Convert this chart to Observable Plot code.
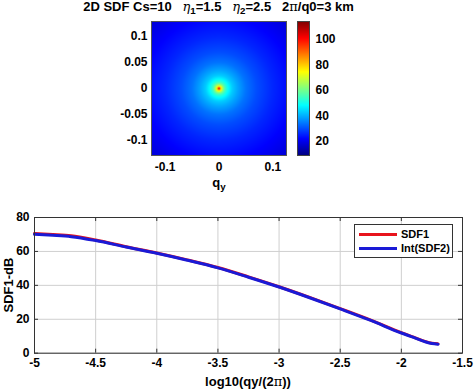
<!DOCTYPE html>
<html>
<head>
<meta charset="utf-8">
<script src="https://cdn.jsdelivr.net/npm/d3@7"></script>
<script src="https://cdn.jsdelivr.net/npm/@observablehq/plot@0.6"></script>
<style>
  html, body { margin: 0; padding: 0; background: #fff; }
  #root { position: relative; width: 474px; height: 390px; overflow: hidden; font-family: "Liberation Sans", Arial, sans-serif; font-weight: bold; color: #000; }
  #root svg { position: absolute; overflow: visible; }
  .lbl { position: absolute; white-space: pre; font-weight: bold; }
  sub { font-size: 0.75em; vertical-align: -0.35em; line-height: 0; }
</style>
</head>
<body>
<div id="root"></div>
<script>
// ---------- data ----------
// 1-D spectrum (dB) vs log10(qy/(2π))
const logQ     = [-5, -4.85, -4.7, -4.5, -4.25, -4, -3.75, -3.5, -3.25, -3, -2.75, -2.5, -2.25, -2, -1.9, -1.8, -1.75, -1.7];
const sdf1     = [70.6, 70.0, 69.2, 66.7, 62.8, 59.1, 55.0, 50.5, 45.0, 39.2, 32.9, 26.3, 19.5, 12.1, 9.5, 6.8, 5.9, 5.5];
const intSdf2  = [70.1, 69.5, 68.7, 66.4, 62.6, 58.9, 54.8, 50.3, 44.8, 39.0, 32.7, 26.1, 19.3, 11.9, 9.3, 6.6, 5.7, 5.3];
const seriesNames = ["SDF1", "Int(SDF2)"];
const seriesColors = ["#e8141c", "#1a1ad6"];

// 2-D SDF radial profile (radius in q units, value in colour units)
const radialQ = [0, 0.0015, 0.003, 0.005, 0.008, 0.012, 0.018, 0.025, 0.035, 0.05, 0.07, 0.1, 0.13, 0.18];
const radialV = [114, 95, 82, 72, 62, 54, 48, 43, 39, 34, 30, 26, 23, 18];

// ticks
const mapTicks = [-0.1, -0.05, 0, 0.05, 0.1];
const mapXTicks = [-0.1, 0, 0.1];
const cbarTicks = [20, 40, 60, 80, 100];
const lineXTicks = [-5, -4.5, -4, -3.5, -3, -2.5, -2, -1.5];
const lineYTicks = [0, 20, 40, 60, 80];

// jet colormap
const cbarMin = 9, cbarMax = 114;
const jetStops = [0, 0.125, 0.375, 0.625, 0.875, 1];
const jetColors = ["#000080", "#0000ff", "#00ffff", "#ffff00", "#ff0000", "#800000"];

// ---------- build ----------
const root = document.getElementById("root");
const colorScale = {
  type: "linear",
  domain: jetStops.map(t => cbarMin + t * (cbarMax - cbarMin)),
  range: jetColors,
  interpolate: "rgb"
};
const profile = d3.scaleLinear().domain(radialQ).range(radialV).clamp(true);
const fmt = d => String(d);
const FONT = "Liberation Sans, Arial, sans-serif";

// heatmap
const qx = 0.1254, qy = 0.129;
const heat = Plot.plot({
  width: 300, height: 195,
  marginLeft: 151, marginRight: 14, marginTop: 21, marginBottom: 40,
  style: {fontFamily: FONT, fontSize: "12px", fontWeight: "bold", color: "#000", background: "transparent"},
  x: {domain: [-qx, qx], label: null},
  y: {domain: [-qy, qy], label: null},
  color: colorScale,
  marks: [
    Plot.raster({x1: -qx, x2: qx, y1: -qy, y2: qy, fill: (x, y) => profile(Math.hypot(x, y))}),
    Plot.frame({stroke: "#555"}),
    Plot.axisX(mapXTicks, {tickSize: 0, tickPadding: 7, tickFormat: fmt, label: null}),
    Plot.axisY(mapTicks, {tickSize: 0, tickPadding: 4, tickFormat: fmt, label: null})
  ]
});
heat.style.left = "0px"; heat.style.top = "0px";
root.appendChild(heat);

// colorbar
const cbar = Plot.plot({
  width: 60, height: 176,
  marginLeft: 7, marginRight: 41, marginTop: 21, marginBottom: 21,
  style: {fontFamily: FONT, fontSize: "12px", fontWeight: "bold", color: "#000", background: "transparent"},
  x: {domain: [0, 1], axis: null},
  y: {domain: [cbarMin, cbarMax], label: null},
  color: colorScale,
  marks: [
    Plot.raster({x1: 0, x2: 1, y1: cbarMin, y2: cbarMax, width: 1, height: 268, fill: (x, y) => y}),
    Plot.frame({stroke: "#444"}),
    Plot.axisY(cbarTicks, {anchor: "right", tickSize: 0, tickPadding: 6, tickFormat: fmt, label: null})
  ]
});
cbar.style.left = "290px"; cbar.style.top = "0px";
root.appendChild(cbar);

// line chart
const lineData = [];
logQ.forEach((x, i) => {
  lineData.push({x, v: sdf1[i], s: seriesNames[0]});
});
logQ.forEach((x, i) => {
  lineData.push({x, v: intSdf2[i], s: seriesNames[1]});
});
const lineH = 200, lineMT = 27, lineMB = 37.3;
const innerH = lineH - lineMT - lineMB;
const lineChart = Plot.plot({
  width: 474, height: lineH,
  marginLeft: 34, marginRight: 12, marginTop: lineMT, marginBottom: lineMB,
  style: {fontFamily: FONT, fontSize: "12px", fontWeight: "bold", color: "#000", background: "transparent"},
  x: {domain: [-5, -1.5], label: null},
  y: {domain: [0, 80], label: null},
  color: {domain: seriesNames, range: seriesColors},
  marks: [
    Plot.gridX(lineXTicks, {stroke: "#cfcfcf", strokeOpacity: 1}),
    Plot.gridY(lineYTicks, {stroke: "#cfcfcf", strokeOpacity: 1}),
    Plot.tickX(lineXTicks, {x: d => d, stroke: "#333", insetTop: innerH - 4}),
    Plot.tickX(lineXTicks, {x: d => d, stroke: "#333", insetBottom: innerH - 4}),
    Plot.tickY(lineYTicks, {y: d => d, stroke: "#333", insetRight: 474 - 34 - 12 - 4}),
    Plot.tickY(lineYTicks, {y: d => d, stroke: "#333", insetLeft: 474 - 34 - 12 - 4}),
    Plot.lineY(lineData, {x: "x", y: "v", stroke: "s", strokeWidth: 3, curve: "monotone-x"}),
    Plot.frame({stroke: "#333"}),
    Plot.axisX(lineXTicks, {tickSize: 0, tickPadding: 5, tickFormat: fmt, label: null}),
    Plot.axisY(lineYTicks, {tickSize: 0, tickPadding: 5, tickFormat: fmt, label: null})
  ]
});
lineChart.style.left = "0px"; lineChart.style.top = "190px";
root.appendChild(lineChart);

// texts
function addLabel(html, css) {
  const d = document.createElement("div");
  d.className = "lbl";
  d.innerHTML = html;
  Object.assign(d.style, css);
  root.appendChild(d);
  return d;
}
addLabel('2D SDF Cs=10   <i style="font-weight:normal;font-family:\'DejaVu Serif\',serif">η</i><sub>1</sub>=1.5   <i style="font-weight:normal;font-family:\'DejaVu Serif\',serif">η</i><sub>2</sub>=2.5   2<span style="font-weight:normal;font-family:\'DejaVu Serif\',serif">π</span>/q0=3 km',
  {left: "0px", width: "437px", textAlign: "center", top: "-1px", fontSize: "13px"});
addLabel('q<sub>y</sub>', {left: "219px", top: "175px", transform: "translateX(-50%)", fontSize: "13px"});
addLabel('log10(qy/(2<span style="font-weight:normal;font-family:\'DejaVu Serif\',serif">π</span>))', {left: "248px", top: "374px", transform: "translateX(-50%)", fontSize: "13px"});
addLabel('SDF1-dB', {left: "8px", top: "285px", transform: "translate(-50%,-50%) rotate(-90deg)", fontSize: "13px"});

// legend
const leg = document.createElement("div");
Object.assign(leg.style, {position: "absolute", left: "354px", top: "224px", width: "97px", height: "32px",
  background: "#fff", border: "1px solid #333", fontSize: "11px", fontWeight: "bold"});
seriesNames.forEach((name, i) => {
  const row = document.createElement("div");
  Object.assign(row.style, {position: "absolute", left: "4px", top: (2 + i * 14) + "px", height: "14px", display: "flex", alignItems: "center"});
  const sw = document.createElement("div");
  Object.assign(sw.style, {width: "38px", height: "3px", background: seriesColors[i], marginRight: "4px"});
  const tx = document.createElement("span");
  tx.textContent = name;
  row.appendChild(sw); row.appendChild(tx);
  leg.appendChild(row);
});
root.appendChild(leg);
</script>
</body>
</html>
